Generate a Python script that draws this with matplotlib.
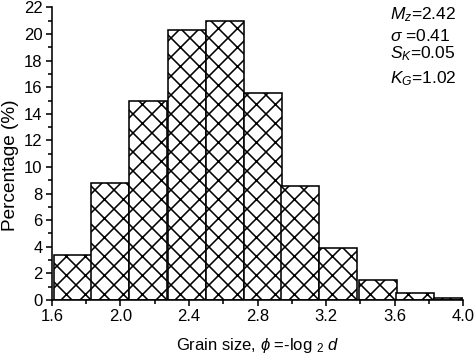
import matplotlib
matplotlib.use("Agg")
import matplotlib.pyplot as plt
from matplotlib.ticker import MultipleLocator, FormatStrFormatter

# grain size classes (lower bound, phi) and percentage in each class
phi_lower = [1.61, 1.83, 2.05, 2.28, 2.50, 2.72, 2.94, 3.16, 3.39, 3.61, 3.83]
class_width = 0.222
percentage = [3.4, 8.8, 15.0, 20.3, 21.0, 15.6, 8.6, 3.9, 1.5, 0.55, 0.18]

# grain size parameters shown in the corner
stat_labels = [r"$M_z$", r"$\sigma$ ", r"$S_K$", r"$K_G$"]
stat_values = ["2.42", "0.41", "0.05", "1.02"]

plt.rcParams["font.family"] = ["Liberation Sans", "DejaVu Sans"]
plt.rcParams["mathtext.fontset"] = "custom"
plt.rcParams["mathtext.rm"] = "Liberation Sans"
plt.rcParams["mathtext.it"] = "Liberation Sans:italic"
plt.rcParams["hatch.linewidth"] = 1.0

dpi = 114
fig = plt.figure(figsize=(474 / dpi, 355 / dpi), dpi=dpi)
ax = fig.add_axes([0.1097, 0.155, 0.8671, 0.824])

ax.bar(
    phi_lower,
    percentage,
    width=class_width,
    align="edge",
    color="white",
    edgecolor="black",
    hatch="xx",
    linewidth=1.0,
)

ax.set_xlim(1.6, 4.0)
ax.set_ylim(0, 22)
ax.xaxis.set_major_locator(MultipleLocator(0.4))
ax.xaxis.set_minor_locator(MultipleLocator(0.2))
ax.yaxis.set_major_locator(MultipleLocator(2))
ax.yaxis.set_minor_locator(MultipleLocator(1))
ax.xaxis.set_major_formatter(FormatStrFormatter("%.1f"))

for side in ["top", "right"]:
    ax.spines[side].set_visible(False)
for side in ["left", "bottom"]:
    ax.spines[side].set_linewidth(1.0)

ax.tick_params(which="major", direction="out", length=4, width=1.0, labelsize=10.5, pad=2)
ax.tick_params(which="minor", direction="out", length=2.5, width=1.0)

ax.set_ylabel("Percentage (%)", fontsize=12)
ax.yaxis.set_label_coords(-0.081, 0.46)
ax.set_xlabel(r"Grain size, $\phi$ =-log $_2$ $d$", fontsize=10.5, labelpad=7)

# baselines of the parameter lines, in axes fraction
stat_y = [0.961, 0.885, 0.825, 0.742]
for lab, val, y in zip(stat_labels, stat_values, stat_y):
    ax.text(
        0.822,
        y,
        lab + "=" + val,
        transform=ax.transAxes,
        fontsize=11,
        va="baseline",
        ha="left",
    )

fig.savefig("out.png", dpi=dpi)
